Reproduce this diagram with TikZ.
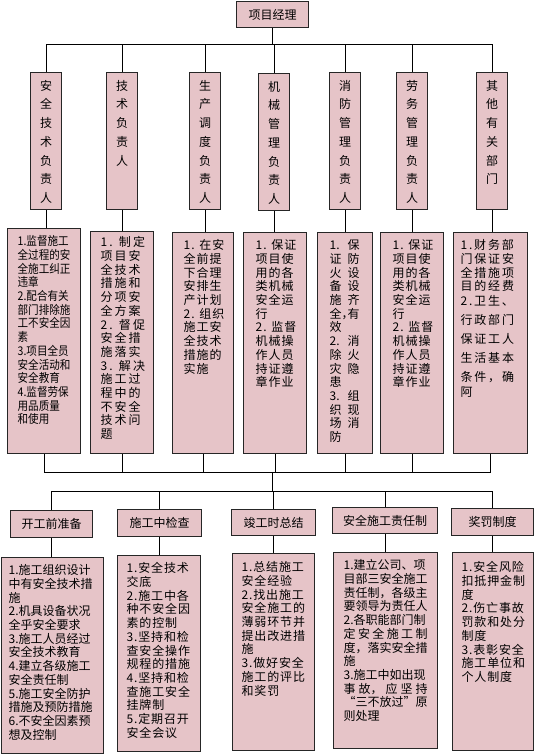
\documentclass[tikz,border=0pt]{standalone}
\usepackage{fontspec}
\setmainfont{Noto Sans CJK SC}
\usepackage{xcolor}
\usepackage{tikz}
\definecolor{cardpink}{RGB}{230,196,200}
\definecolor{cardline}{RGB}{38,38,38}
\newcommand\cardtext[5]{\parbox[c][#2][t]{#1}{\vspace*{#4}\raggedright\leftskip=#3\relax #5\par}}
\newcommand\roletext[1]{\parbox[c][137pt][t]{31pt}{\vspace*{7.5pt}\centering #1\par}}
\newcommand\pair[2]{\makebox[18pt][l]{#1}#2}
\newcommand\spreadline[1]{\makebox[84pt][s]{#1}}

\begin{document}
\begin{tikzpicture}[x=1pt,y=-1pt,
  card/.style={draw=cardline,fill=cardpink,line width=1.3pt,inner sep=0pt,anchor=north west,font=\fontsize{12}{13.7}\selectfont},
  role/.style={card,font=\fontsize{12}{18.7}\selectfont},
  head/.style={card,font=\fontsize{12}{14}\selectfont},
  link/.style={line width=1pt,draw=black}]
\useasboundingbox (0,0) rectangle (536,756);
\node[head,minimum width=72pt,minimum height=26pt] (pm) at (236,1) {项目经理};

\node[role] (r1) at (30,72) {\roletext{安\\全\\技\\术\\负\\责\\人}};
\node[role] (r2) at (106,72) {\roletext{技\\术\\负\\责\\人}};
\node[role] (r3) at (189,72) {\roletext{生\\产\\调\\度\\负\\责\\人}};
\node[role] (r4) at (258,73) {\roletext{机\\械\\管\\理\\负\\责\\人}};
\node[role] (r5) at (329,72) {\roletext{消\\防\\管\\理\\负\\责\\人}};
\node[role] (r6) at (396,72) {\roletext{劳\\务\\管\\理\\负\\责\\人}};
\node[role] (r7) at (476,72) {\roletext{其\\他\\有\\关\\部\\门}};

\node[card] (d1) at (7,228) {\cardtext{73pt}{225pt}{10pt}{7pt}{\addfontfeature{FakeStretch=0.88}%
1.监督施工\\全过程的安\\全施工纠正\\违章\\2.配合有关\\部门排除施\\工不安全因\\素\\3.项目全员\\安全活动和\\安全教育\\4.监督劳保\\用品质量\\和使用}};
\node[card] (d2) at (90,231) {\cardtext{63pt}{222pt}{10pt}{5pt}{\addfontfeature{LetterSpace=17}%
1. 制定\\项目安\\全技术\\措施和\\分项安\\全方案\\2. 督促\\安全措\\施落实\\3. 解决\\施工过\\程中的\\不安全\\技术问\\题}};
\node[card] (d3) at (172,232) {\cardtext{61pt}{221pt}{11pt}{7pt}{\addfontfeature{LetterSpace=8}%
1. 在安\\全前提\\下合理\\安排生\\产计划\\2. 组织\\施工安\\全技术\\措施的\\实施}};
\node[card] (d4) at (243,232) {\cardtext{63pt}{221pt}{12pt}{7pt}{\addfontfeature{LetterSpace=8}%
1. 保证\\项目使\\用的各\\类机械\\安全运\\行\\2. 监督\\机械操\\作人员\\持证遵\\章作业}};
\node[card] (d5) at (317,232) {\cardtext{55pt}{221pt}{12pt}{7pt}{%
\pair{1.}{保}\\\pair{证}{防}\\\pair{火}{设}\\\pair{备}{设}\\\pair{施}{齐}\\\pair{全，}{有}\\效\\\pair{2.}{消}\\\pair{除}{火}\\\pair{灾}{隐}\\患\\\pair{3.}{组}\\\pair{织}{现}\\\pair{场}{消}\\防}};
\node[card] (d6) at (380,232) {\cardtext{63pt}{221pt}{12pt}{7pt}{\addfontfeature{LetterSpace=8}%
1. 保证\\项目使\\用的各\\类机械\\安全运\\行\\2. 监督\\机械操\\作人员\\持证遵\\章作业}};
\node[card] (d7) at (453,232) {\cardtext{74pt}{221pt}{7pt}{7pt}{\addfontfeature{LetterSpace=15}%
1.财务部\\门保证安\\全措施项\\目的经费\\[1.3pt]2.卫生、\\[5.3pt]行政部门\\[5.3pt]保证工人\\[5.3pt]生活基本\\[5.3pt]条件，确\\[1.3pt]阿}};

\node[head,minimum width=82pt,minimum height=27pt] (p1) at (10,510) {开工前准备};
\node[head,minimum width=84pt,minimum height=27pt] (p2) at (117,509) {施工中检查};
\node[head,minimum width=84pt,minimum height=26pt] (p3) at (231,509) {竣工时总结};
\node[head,minimum width=105pt,minimum height=26pt] (p4) at (332,507) {安全施工责任制};
\node[head,minimum width=82pt,minimum height=27pt] (p5) at (451,508) {奖罚制度};

\node[card] (q1) at (1,557) {\cardtext{102pt}{196pt}{7pt}{7pt}{%
1.施工组织设计\\中有安全技术措\\施\\2.机具设备状况\\全乎安全要求\\3.施工人员经过\\安全技术教育\\4.建立各级施工\\安全责任制\\5.施工安全防护\\措施及预防措施\\6.不安全因素预\\想及控制}};
\node[card] (q2) at (117,555) {\cardtext{83pt}{196pt}{9pt}{7pt}{\addfontfeature{LetterSpace=7}%
1.安全技术\\交底\\2.施工中各\\种不安全因\\素的控制\\3.坚持和检\\查安全操作\\规程的措施\\4.坚持和检\\查施工安全\\挂牌制\\5.定期召开\\安全会议}};
\node[card] (q3) at (232,553) {\cardtext{82pt}{197pt}{9pt}{8pt}{\addfontfeature{LetterSpace=7}%
1.总结施工\\安全经验\\2.找出施工\\安全施工的\\薄弱环节并\\提出改进措\\施\\3.做好安全\\施工的评比\\和奖罚}};
\node[card] (q4) at (333,552) {\cardtext{104pt}{196pt}{10pt}{7pt}{%
1.建立公司、项\\目部三安全施工\\责任制，各级主\\要领导为责任人\\2.各职能部门制\\\spreadline{定\hfil 安\hfil 全\hfil 施\hfil 工\hfil 制}\\度，落实安全措\\施\\3.施工中如出现\\\spreadline{事\hfil 故，\hfil 应\hfil 坚\hfil 持}\\“三不放过”原\\则处理}};
\node[card] (q5) at (452,552) {\cardtext{81pt}{198pt}{9pt}{9pt}{\addfontfeature{LetterSpace=7}%
1.安全风险\\扣抵押金制\\度\\2.伤亡事故\\罚款和处分\\制度\\3.表彰安全\\施工单位和\\个人制度}};

\coordinate (bus1) at (0,44);
\coordinate (bus2) at (0,472);
\coordinate (bus3) at (0,491);
\draw[link] (pm.south) -- (pm.south |- bus1);
\draw[link] (r1.north) |- (r7.north |- bus1) -- (r7.north);
\draw[link] (r2.north) -- (r2.north |- bus1);
\draw[link] (r3.north) -- (r3.north |- bus1);
\draw[link] (r4.north) -- (r4.north |- bus1);
\draw[link] (r5.north) -- (r5.north |- bus1);
\draw[link] (r6.north) -- (r6.north |- bus1);
\draw[link] (r1.south) -- (r1.south |- d1.north);
\draw[link] (r2.south) -- (r2.south |- d2.north);
\draw[link] (r3.south) -- (r3.south |- d3.north);
\draw[link] (r4.south) -- (r4.south |- d4.north);
\draw[link] (r5.south) -- (r5.south |- d5.north);
\draw[link] (r6.south) -- (r6.south |- d6.north);
\draw[link] (r7.south) -- (r7.south |- d7.north);
\draw[link] (d1.south) |- (d7.south |- bus2) -- (d7.south);
\draw[link] (d2.south) -- (d2.south |- bus2);
\draw[link] (d3.south) -- (d3.south |- bus2);
\draw[link] (d4.south) -- (d4.south |- bus2);
\draw[link] (d5.south) -- (d5.south |- bus2);
\draw[link] (d6.south) -- (d6.south |- bus2);
\draw[link] (pm.south |- bus2) -- (pm.south |- bus3);
\draw[link] (p1.north) |- (p5.north |- bus3) -- (p5.north);
\draw[link] (p2.north) -- (p2.north |- bus3);
\draw[link] (p3.north) -- (p3.north |- bus3);
\draw[link] (p4.north) -- (p4.north |- bus3);
\draw[link] (p1.south) -- (p1.south |- q1.north);
\draw[link] (p2.south) -- (p2.south |- q2.north);
\draw[link] (p3.south) -- (p3.south |- q3.north);
\draw[link] (p4.south) -- (p4.south |- q4.north);
\draw[link] (p5.south) -- (p5.south |- q5.north);
\end{tikzpicture}
\end{document}
